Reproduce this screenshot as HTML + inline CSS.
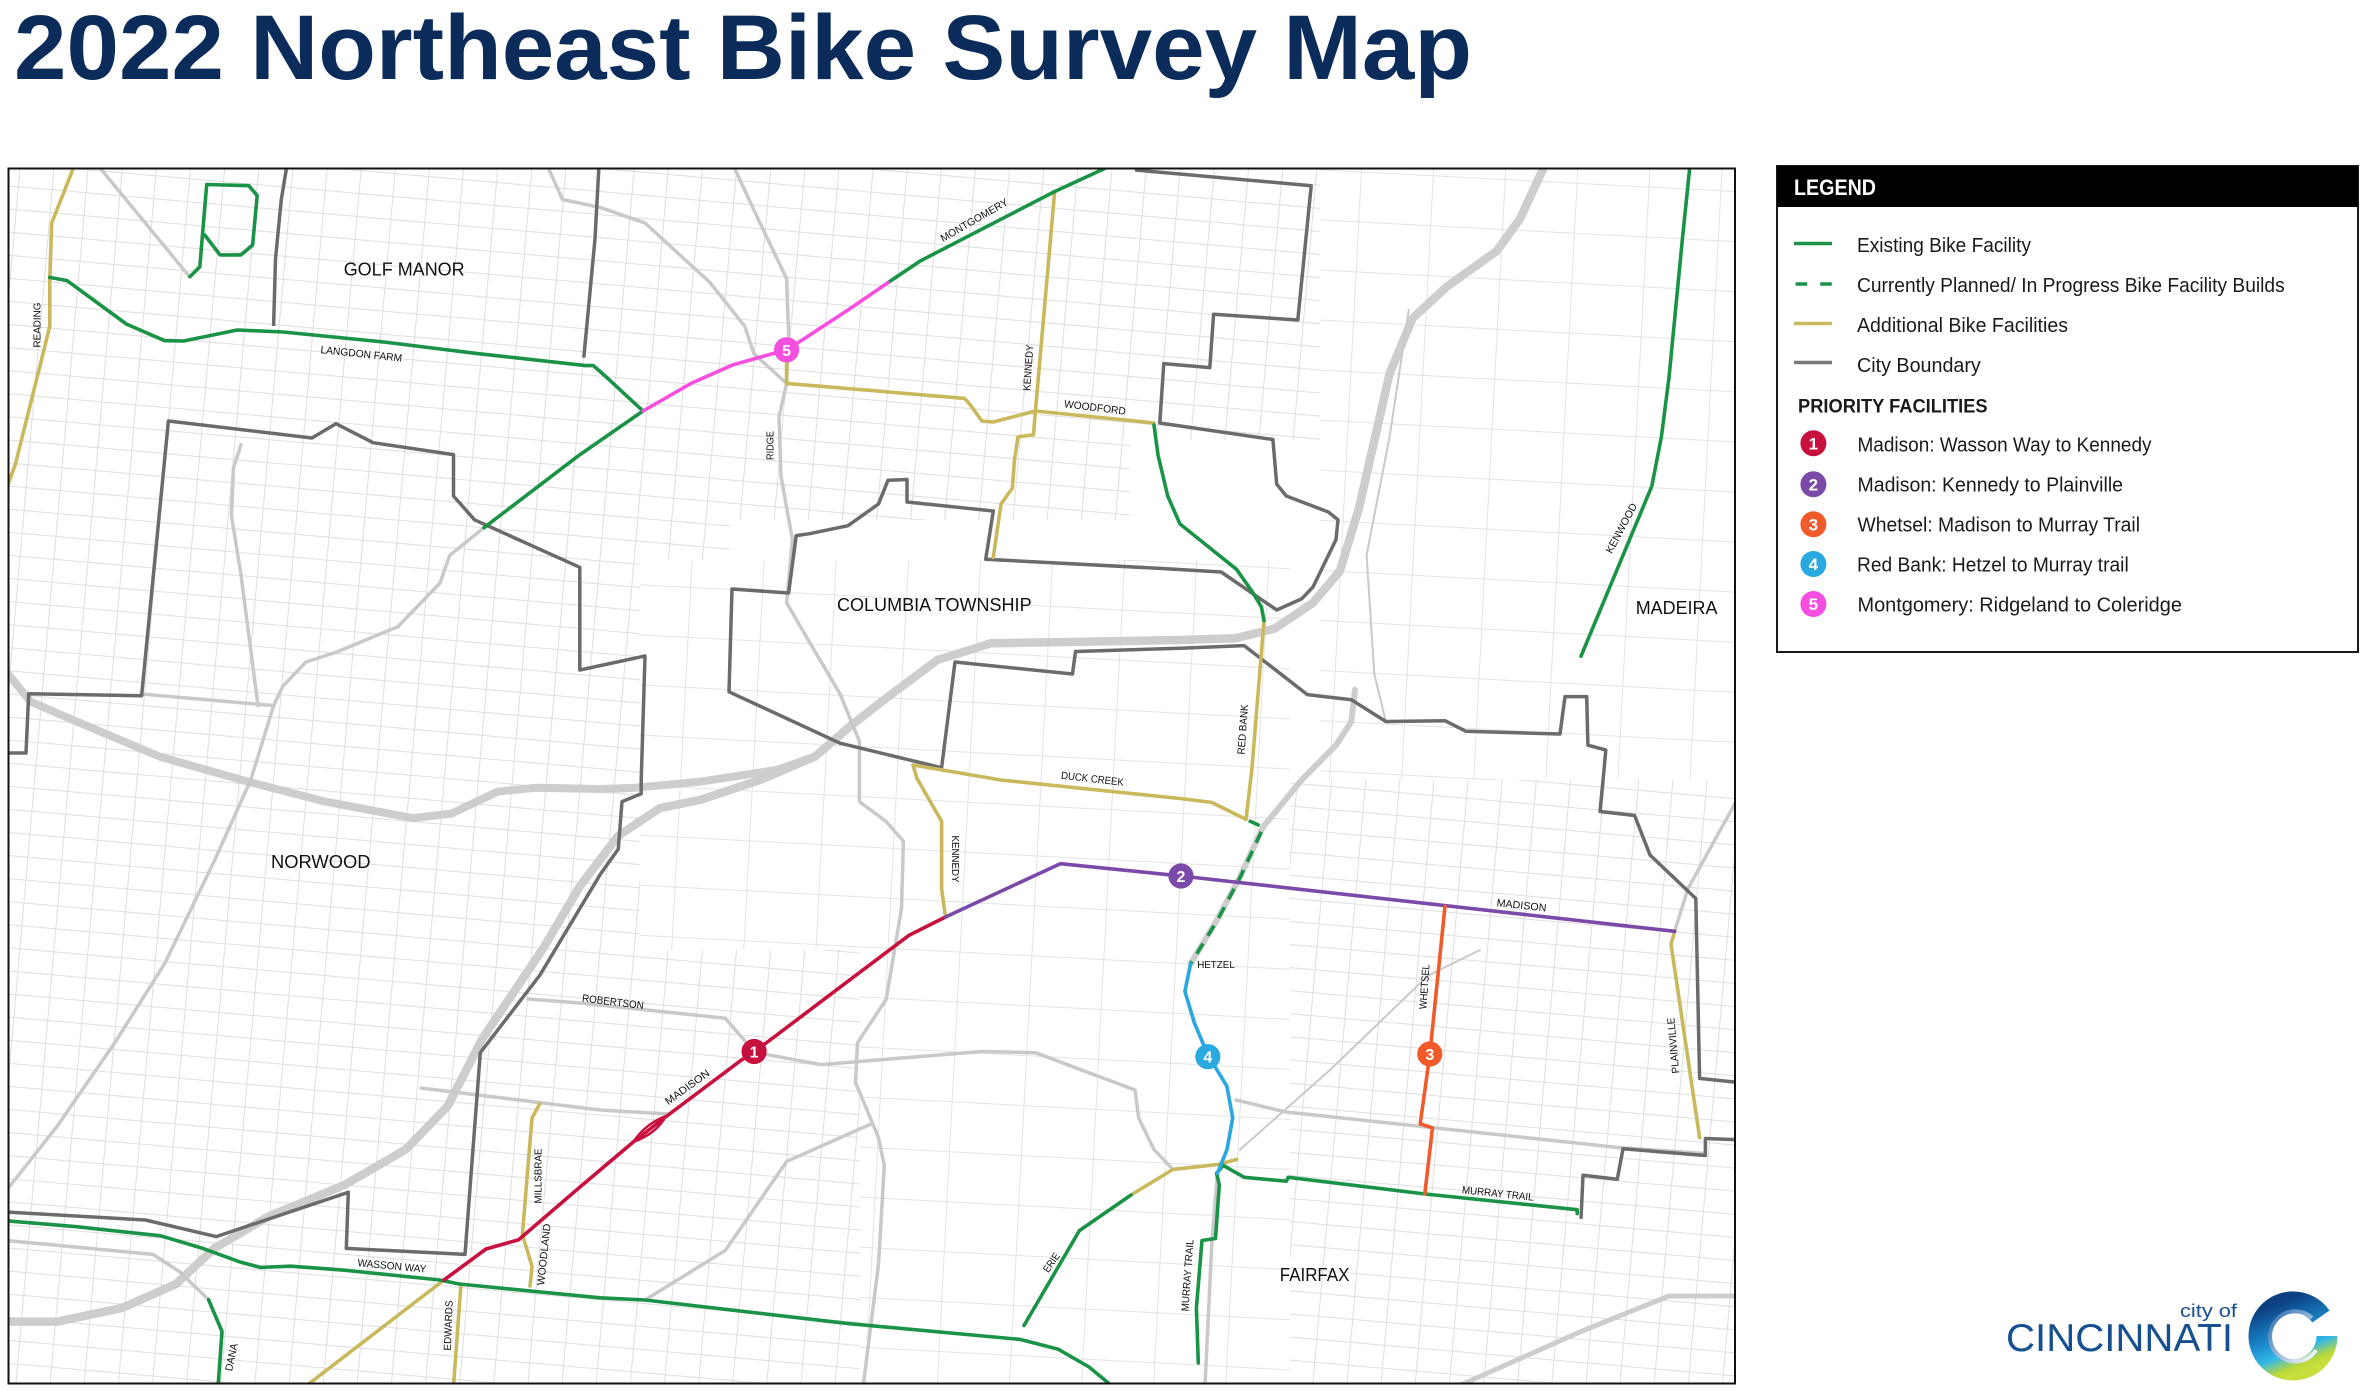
<!DOCTYPE html>
<html><head><meta charset="utf-8"><style>
html,body{margin:0;padding:0;background:#fff;}
svg{display:block;}
</style></head><body>
<svg width="2367" height="1391" viewBox="0 0 2367 1391" xmlns="http://www.w3.org/2000/svg" font-family="'Liberation Sans', Arial, sans-serif">
<defs>
<pattern id="pd" width="34" height="23" patternUnits="userSpaceOnUse" patternTransform="rotate(5)">
<path d="M0 0.5H34M0.5 0V23" stroke="#dedede" stroke-width="1" fill="none"/>
</pattern>
<pattern id="ps" width="72" height="50" patternUnits="userSpaceOnUse" patternTransform="rotate(3)">
<path d="M0 0.5H72M0.5 0V50" stroke="#e3e3e3" stroke-width="1" fill="none"/>
</pattern>
<clipPath id="mc"><rect x="8" y="168" width="1727" height="1216"/></clipPath>
<linearGradient id="lg" x1="0.3" y1="0" x2="0.7" y2="1">
<stop offset="0" stop-color="#0b3f80"/>
<stop offset="0.45" stop-color="#1a88cc"/>
<stop offset="0.7" stop-color="#35b8e8"/>
<stop offset="0.9" stop-color="#b9d83a"/>
<stop offset="1" stop-color="#c8de3c"/>
</linearGradient>
<linearGradient id="lg2" x1="0" y1="0" x2="1" y2="1">
<stop offset="0" stop-color="#2b6db0"/>
<stop offset="1" stop-color="#ffffff"/>
</linearGradient>
</defs>
<rect width="2367" height="1391" fill="#fff"/>

<text x="14" y="79" font-size="92" font-weight="bold" fill="#0b2c5a" textLength="1458" lengthAdjust="spacingAndGlyphs">2022 Northeast Bike Survey Map</text>

<g clip-path="url(#mc)">
<!-- street textures -->
<polygon points="8,168 730,168 730,560 640,560 640,1384 8,1384" fill="url(#pd)"/>
<polygon points="640,950 860,950 860,1384 640,1384" fill="url(#pd)"/>
<polygon points="730,168 1130,168 1130,520 730,520" fill="url(#pd)"/>
<polygon points="1130,168 1320,168 1320,440 1130,440" fill="url(#pd)"/>
<polygon points="1290,780 1735,780 1735,1384 1290,1384" fill="url(#pd)"/>
<polygon points="860,560 1290,560 1290,1384 860,1384" fill="url(#ps)"/>
<polygon points="1320,168 1735,168 1735,780 1320,780" fill="url(#ps)"/>
<polygon points="640,560 860,560 860,950 640,950" fill="url(#ps)"/>

<!-- highways -->
<g fill="none" stroke="#cdcdcd" stroke-linejoin="round" stroke-linecap="round">
<polyline stroke-width="8" points="8,674 30.6,701.7 76.5,721.5 160.7,757 248.8,781.9 325.3,801.6 413.3,818.2 451.6,813.5 497.5,791.7 535.8,787.8 600,789 632,788 700,781.7 776.5,770 814.8,756.7"/>
<polyline stroke-width="8.5" points="8,1321.6 57.4,1321.6 122.5,1307.8 176,1284 214.3,1248.4 267.9,1216.8 344.4,1185 405.6,1149.6 447.8,1106 482.2,1038.9 543.4,948 580,886 618,836 660,808 700,800 760,780 814.8,756.7 848,728 883.7,700 937.3,660 990.8,643.3 1082.7,641.7 1180,640 1235.7,638.3 1274.8,628.5 1313,602.8 1339.9,571 1359,508 1389.6,373.5 1412.6,318.2 1447,286.5 1496.8,251 1519.7,219.3 1545,165"/>
<polyline stroke-width="6" points="1355,689.8 1351.3,721.5 1336,745.2 1301.6,780 1263,827 1240,877 1217,920 1190.6,963.7"/>
<polyline stroke-width="5" points="1458.5,1386 1581,1331.5 1669,1296 1740,1296"/>
</g>

<!-- medium roads -->
<g fill="none" stroke="#c9c9c9" stroke-width="3.5" stroke-linejoin="round" stroke-linecap="round">
<polyline points="97.6,165 189.4,276.6"/>
<polyline points="733,165 760,223 786.6,278.6 788.6,334 786.6,383.4 779,417 781,476 792.4,539.6 786.6,602.8 809.6,642.4 840,693.8 859.4,741.2 859.4,801.6 886,821.4 903.4,841.2 901.5,908.4 886.2,999.3 857.5,1042.8 855.5,1082.4 878.5,1137.7 884.3,1165.4 878.5,1264.2 863.2,1386"/>
<polyline points="547,165 562.5,199.5 600,207.4 645,223 710,282.6 744.6,326 754,353.7 786.6,383.4"/>
<polyline points="484,527.7 449.7,555.4 440,583 398,626.6 336.8,652 306,662 283,686 273.6,705.6 250.7,780 241,801.6 214.3,861 164.6,963.7 114.8,1042.8 57.4,1125.9 6,1191"/>
<polyline points="241,444.7 233.4,468.4 231.5,515.9 241,575 258,705.6"/>
<polyline points="6,1240.5 153,1254.4 180,1272 208.6,1299.8"/>
<polyline points="528,999 580,1003 725.4,1018.3 754,1051.5"/>
<polyline points="767.5,1054.7 821,1064.6 981.8,1051.5 1035.4,1052.7 1135,1090 1138.7,1118 1154,1149.6 1173,1169.4"/>
<polyline points="421,1088 600,1110 668,1114"/>
<polyline points="871,1124 786.6,1161.5 725.4,1250.4 645,1300"/>
<polyline points="1236,1100 1286,1112 1619,1147.6 1705,1153.5"/>
<polyline points="1190.6,963.7 1184.9,991.4 1194.4,1023 1207.8,1054.7 1226.9,1086.3 1232.7,1117.9 1227,1149.5 1217.4,1173.3 1212,1240 1205,1386"/>
<polyline points="1674.7,931 1688,888.6 1738,798"/>
<polyline points="141.6,694 273.6,705.6"/>
<polyline stroke-width="2" points="1408.8,310 1389.6,436.8 1366.6,555 1374.3,674 1385.8,721.5"/>
<polyline stroke-width="2" points="1240,1149.6 1330,1070 1428,975.6 1480,950"/>
</g>

<!-- boundaries -->
<g fill="none" stroke="#6b6b6b" stroke-width="3.5" stroke-linejoin="round">
<polyline points="287,165 281.3,199.5 275.5,258.9 273.6,326"/>
<polyline points="599,165 595,239 583.8,357.7"/>
<polyline points="6,753 26,753 28.7,693.8 141.6,695.8 168.4,421 311.9,438 336,423.7 373.1,442.7 453.5,454.6 453.5,496 474.5,519.8 579.8,567.3 579.8,670 645,656 641.2,780 641.2,793.7 622,801.6 618.3,849 600,874.8 539.6,975.6 480.3,1052.7 465,1254.4 346.3,1248.4 348.3,1192.3 216.2,1236.6 145.4,1220 6,1212"/>
<polyline points="1135,170 1311.2,185.7 1297.8,320 1213.6,314.2 1209.8,367.6 1163.8,363.6 1159.8,423 1272.9,439.5 1276.7,484.2 1286.3,496 1328.4,512 1338,519.8 1336,539.6 1313,587 1301.6,598.9 1276.7,610 1221.2,572 1160,568.4 985.7,559.3 993.3,511 907,502 907,479.5 888,480.3 878.5,504 848,525.7 809.6,533.7 796.2,535.6 788.6,593 732,589 729,691.8 840,743.2 941.6,767.7 955,662 1072.5,674 1075.5,651.5 1180,648.3 1244.2,645.6 1307.3,694.6 1351.3,699.7 1385.8,721.5 1445,720.7 1466,731.3 1560,734 1565,696.6 1586.7,696.6 1587.9,745.2 1605.8,750 1604,770 1600,811.5 1634.6,815.5 1650,855 1695.8,898.5 1699.6,1078.4 1738,1082.4"/>
<polyline points="1738,1139.7 1705.4,1138.5 1705.4,1155.5 1623,1148.8 1617.3,1179.2 1583,1175.3 1581,1218.8"/>
</g>

<!-- additional bike facilities (yellow) -->
<g fill="none" stroke="#c9b95c" stroke-width="3.6" stroke-linejoin="round" stroke-linecap="round">
<polyline points="74.6,165 51.7,223 49.8,278.6 49.8,326 42,357.7 15.3,464.5 6,490"/>
<polyline points="786.6,349.8 786.6,383.4 964.6,398.4 970.4,405 981.8,421 993.3,422 1035.4,411 1154,423"/>
<polyline points="1054.5,193.6 1035.4,411 1033.5,434.8 1018,436.8 1014.4,460.5 1012.4,488 1001,504 993.3,557.4"/>
<polyline points="945.5,917 941.6,888.6 941.6,821.4 916.8,778 913,765 1001,780 1180,798.5 1211.7,802.4 1246,819.4"/>
<polyline points="1264,620.6 1251.8,770 1246,819.4"/>
<polyline points="1131,1195 1173,1169.4 1217.4,1164.6 1236.5,1159.5"/>
<polyline points="1674.7,931.3 1671,944 1699.6,1137.7"/>
<polyline points="539.6,1104 532,1118 522.4,1234.6 532,1266.2 530,1286"/>
<polyline points="306,1386 444,1280"/>
<polyline points="461,1284 453.5,1386"/>
</g>

<!-- existing bike facilities (green) -->
<g fill="none" stroke="#1a9347" stroke-width="3.6" stroke-linejoin="round" stroke-linecap="round">
<polyline points="190,276.6 199.8,266.8 206.7,184.5 248.8,185.7 257.2,195.6 252.6,245 241,254.9 220,254.9 204.7,235"/>
<polyline points="49.8,277.4 67,280.6 126.3,324 164.6,340.7 183.7,341 237.3,330 283.2,332 382.7,341.9 478.4,353.7 585.5,365.6 593.4,365.6 606.8,377.5 643,411 580,454.6 484,527.7"/>
<polyline points="888,282.6 920.6,260.8 1054.5,191.6 1110,166"/>
<polyline points="1154,425 1158,455 1167.7,496 1180,524 1202,541.6 1236.5,569.3 1251.8,591 1261.4,606.8 1264,620.6"/>
<polyline points="1690,165 1682.4,239 1669,377.5 1661.4,436.8 1651.8,486.2 1581,656.2"/>
<polyline points="6,1220.8 76.5,1226.7 160.7,1235.8 202.8,1248.4 241,1262.3 260.2,1267.4 290.8,1266.2 344.4,1270.2 440,1280 459.2,1284 600,1297.8 645,1300 848,1323.6 1020,1339.4 1058.4,1349.3 1089,1367 1112,1386"/>
<polyline points="208.6,1299.8 222,1331.5 218.1,1386"/>
<polyline points="1024,1325.5 1079.4,1230.6 1131,1195"/>
<polyline points="1198.3,1363 1196.4,1307.7 1202,1240.5 1215.5,1238.5 1219.3,1185 1216.6,1173.3 1223.2,1165.4 1244.2,1177.3 1286.3,1181.2 1288.2,1177.3 1424,1193.9 1577.2,1209.7 1577.2,1213.6"/>
<polyline stroke-dasharray="12 9" stroke-linecap="butt" points="1248.8,820.6 1263.3,827.3 1240.4,876.8 1217.4,920.3 1190.6,963.7"/>
</g>

<!-- priority lines -->
<g fill="none" stroke-width="3.6" stroke-linejoin="round" stroke-linecap="round">
<polyline stroke="#f64fe0" points="643,411 691,383.4 733,364.8 775,353 786.6,349.8 798,342.7 848,310 888,282.6"/>
<polyline stroke="#c8103f" points="444,1280 486,1249 518.6,1239.8 580,1187 633.6,1141.7 664.2,1118 740.7,1060.6 754.1,1051.5 767.5,1042 855.5,975.6 909,935.3 945.5,917"/>
<path stroke="#c8103f" stroke-width="2.5" d="M633.6,1141.7 Q645,1124 666,1116 Q656,1134 633.6,1141.7"/>
<polyline stroke="#7b4aa8" points="945.5,917 1060.3,863.7 1169.4,874.8 1181,876 1674.7,931.3"/>
<polyline stroke="#f15a2b" points="1445,906.4 1429.8,1054.7 1420.2,1123.9 1432.5,1127.8 1424.8,1193.9"/>
<polyline stroke="#2aa9e0" points="1190.6,963.7 1184.9,991.4 1194.4,1023 1207.8,1054.7 1226.9,1086.3 1232.7,1117.9 1227,1149.5 1217.4,1173.3"/>
</g>

<!-- priority circles -->
<g font-size="16" font-weight="bold" fill="#fff" text-anchor="middle">
<circle cx="754.1" cy="1051.5" r="12.6" fill="#c8103f"/><text x="754.1" y="1057.5">1</text>
<circle cx="1181" cy="876" r="12.6" fill="#7b4aa8"/><text x="1181" y="882">2</text>
<circle cx="1429.8" cy="1054" r="12.6" fill="#f15a2b"/><text x="1429.8" y="1060">3</text>
<circle cx="1207.8" cy="1056.7" r="12.6" fill="#2aa9e0"/><text x="1207.8" y="1062.7">4</text>
<circle cx="786.6" cy="349.8" r="12.6" fill="#f64fe0"/><text x="786.6" y="355.8">5</text>
</g>

<!-- place names -->
<g font-size="18.5" fill="#111">
<text x="343.7" y="275.5" textLength="121" lengthAdjust="spacingAndGlyphs">GOLF MANOR</text>
<text x="837" y="610.8" textLength="194.6" lengthAdjust="spacingAndGlyphs">COLUMBIA TOWNSHIP</text>
<text x="1635.7" y="614" textLength="81.8" lengthAdjust="spacingAndGlyphs">MADEIRA</text>
<text x="271" y="868" textLength="99.5" lengthAdjust="spacingAndGlyphs">NORWOOD</text>
<text x="1279.8" y="1281" textLength="69.6" lengthAdjust="spacingAndGlyphs">FAIRFAX</text>
</g>

<!-- street labels -->
<g font-size="10.5" fill="#111" text-anchor="middle" lengthAdjust="spacingAndGlyphs">
<text x="36.4" y="329" transform="rotate(-90 36.4 325)" textLength="45" lengthAdjust="spacingAndGlyphs">READING</text>
<text x="361.4" y="357.4" transform="rotate(6 361.4 353.4)" textLength="82" lengthAdjust="spacingAndGlyphs">LANGDON FARM</text>
<text x="974" y="223.7" transform="rotate(-30 974 219.7)" textLength="76" lengthAdjust="spacingAndGlyphs">MONTGOMERY</text>
<text x="769.4" y="449.5" transform="rotate(-90 769.4 445.5)" textLength="29" lengthAdjust="spacingAndGlyphs">RIDGE</text>
<text x="1027.8" y="371.6" transform="rotate(-86 1027.8 367.6)" textLength="46" lengthAdjust="spacingAndGlyphs">KENNEDY</text>
<text x="1095" y="411" transform="rotate(7 1095 407)" textLength="62" lengthAdjust="spacingAndGlyphs">WOODFORD</text>
<text x="1092.5" y="782.3" transform="rotate(6.5 1092.5 778.3)" textLength="63" lengthAdjust="spacingAndGlyphs">DUCK CREEK</text>
<text x="1242.3" y="733.4" transform="rotate(-86 1242.3 729.4)" textLength="50" lengthAdjust="spacingAndGlyphs">RED BANK</text>
<text x="1621" y="532" transform="rotate(-62 1621 528)" textLength="55" lengthAdjust="spacingAndGlyphs">KENWOOD</text>
<text x="955.8" y="863" transform="rotate(90 955.8 859)" textLength="47" lengthAdjust="spacingAndGlyphs">KENNEDY</text>
<text x="613" y="1005.3" transform="rotate(7 613 1001.3)" textLength="62" lengthAdjust="spacingAndGlyphs">ROBERTSON</text>
<text x="687" y="1090.7" transform="rotate(-36 687 1086.7)" textLength="52" lengthAdjust="spacingAndGlyphs">MADISON</text>
<text x="1216" y="968" textLength="37.6" lengthAdjust="spacingAndGlyphs">HETZEL</text>
<text x="1521.6" y="908.8" transform="rotate(6 1521.6 904.8)" textLength="50" lengthAdjust="spacingAndGlyphs">MADISON</text>
<text x="1424" y="990.7" transform="rotate(-86 1424 986.7)" textLength="45" lengthAdjust="spacingAndGlyphs">WHETSEL</text>
<text x="1672.8" y="1049.6" transform="rotate(-95 1672.8 1045.6)" textLength="56" lengthAdjust="spacingAndGlyphs">PLAINVILLE</text>
<text x="1497.8" y="1197" transform="rotate(6 1497.8 1193)" textLength="72" lengthAdjust="spacingAndGlyphs">MURRAY TRAIL</text>
<text x="1187" y="1279.3" transform="rotate(-86 1187 1275.3)" textLength="72" lengthAdjust="spacingAndGlyphs">MURRAY TRAIL</text>
<text x="1051" y="1266.3" transform="rotate(-55 1051 1262.3)" textLength="21" lengthAdjust="spacingAndGlyphs">ERIE</text>
<text x="537.7" y="1180" transform="rotate(-90 537.7 1176)" textLength="55" lengthAdjust="spacingAndGlyphs">MILLSBRAE</text>
<text x="543.4" y="1258.4" transform="rotate(-84 543.4 1254.4)" textLength="62" lengthAdjust="spacingAndGlyphs">WOODLAND</text>
<text x="392" y="1269.4" transform="rotate(5.5 392 1265.4)" textLength="69" lengthAdjust="spacingAndGlyphs">WASSON WAY</text>
<text x="447.8" y="1329.5" transform="rotate(-88 447.8 1325.5)" textLength="50" lengthAdjust="spacingAndGlyphs">EDWARDS</text>
<text x="231" y="1361" transform="rotate(-78 231 1357)" textLength="28" lengthAdjust="spacingAndGlyphs">DANA</text>
</g>
</g>

<!-- map frame -->
<rect x="8.5" y="168.5" width="1726.5" height="1215" fill="none" stroke="#111" stroke-width="2"/>

<!-- legend -->
<rect x="1777" y="166" width="581" height="486" fill="#fff" stroke="#1a1a1a" stroke-width="2"/>
<rect x="1777" y="166" width="581" height="41" fill="#000"/>
<text x="1794" y="195" font-size="22" font-weight="bold" fill="#fff" textLength="82" lengthAdjust="spacingAndGlyphs">LEGEND</text>
<line x1="1794" y1="243.5" x2="1832" y2="243.5" stroke="#1a9347" stroke-width="3.5"/>
<line x1="1795.6" y1="284" x2="1832" y2="284" stroke="#1a9347" stroke-width="3.5" stroke-dasharray="11.6 13"/>
<line x1="1794" y1="323.5" x2="1832" y2="323.5" stroke="#c9b95c" stroke-width="3.5"/>
<line x1="1794" y1="362.5" x2="1832" y2="362.5" stroke="#7a7a7a" stroke-width="3.5"/>
<g font-size="20" fill="#1a1a1a">
<text x="1857" y="252" textLength="174" lengthAdjust="spacingAndGlyphs">Existing Bike Facility</text>
<text x="1857" y="292" textLength="427.7" lengthAdjust="spacingAndGlyphs">Currently Planned/ In Progress Bike Facility Builds</text>
<text x="1857" y="332" textLength="211" lengthAdjust="spacingAndGlyphs">Additional Bike Facilities</text>
<text x="1857" y="372" textLength="123.8" lengthAdjust="spacingAndGlyphs">City Boundary</text>
<text x="1798" y="412.7" font-weight="bold" font-size="19" textLength="189.6" lengthAdjust="spacingAndGlyphs">PRIORITY FACILITIES</text>
<text x="1857.5" y="451.7" textLength="294" lengthAdjust="spacingAndGlyphs">Madison: Wasson Way to Kennedy</text>
<text x="1857.5" y="491.7" textLength="265.5" lengthAdjust="spacingAndGlyphs">Madison: Kennedy to Plainville</text>
<text x="1857.5" y="531.7" textLength="282.5" lengthAdjust="spacingAndGlyphs">Whetsel: Madison to Murray Trail</text>
<text x="1857" y="571.7" textLength="271.7" lengthAdjust="spacingAndGlyphs">Red Bank: Hetzel to Murray trail</text>
<text x="1857.5" y="611.7" textLength="324.4" lengthAdjust="spacingAndGlyphs">Montgomery: Ridgeland to Coleridge</text>
</g>
<g font-size="17" font-weight="bold" fill="#fff" text-anchor="middle">
<circle cx="1813.4" cy="443.3" r="13" fill="#c8103f"/><text x="1813.4" y="449.5">1</text>
<circle cx="1813.4" cy="484.3" r="13" fill="#7b4aa8"/><text x="1813.4" y="490.5">2</text>
<circle cx="1813.4" cy="524.3" r="13" fill="#f15a2b"/><text x="1813.4" y="530.5">3</text>
<circle cx="1813.4" cy="564" r="13" fill="#2aa9e0"/><text x="1813.4" y="570.2">4</text>
<circle cx="1813.4" cy="604" r="13" fill="#f64fe0"/><text x="1813.4" y="610.2">5</text>
</g>

<!-- logo -->
<text x="2180" y="1317" font-size="18" fill="#16508f" textLength="57" lengthAdjust="spacingAndGlyphs">city of</text>
<text x="2006" y="1351" font-size="39" fill="#16508f" textLength="227" lengthAdjust="spacingAndGlyphs">CINCINNATI</text>
<path d="M2320.9,1316.5 A34,34 0 1 0 2327,1336" fill="none" stroke="url(#lg)" stroke-width="21"/>
<path d="M2312,1318 A25,25 0 1 0 2316,1350" fill="none" stroke="url(#lg2)" stroke-width="4"/>
</svg>
</body></html>
